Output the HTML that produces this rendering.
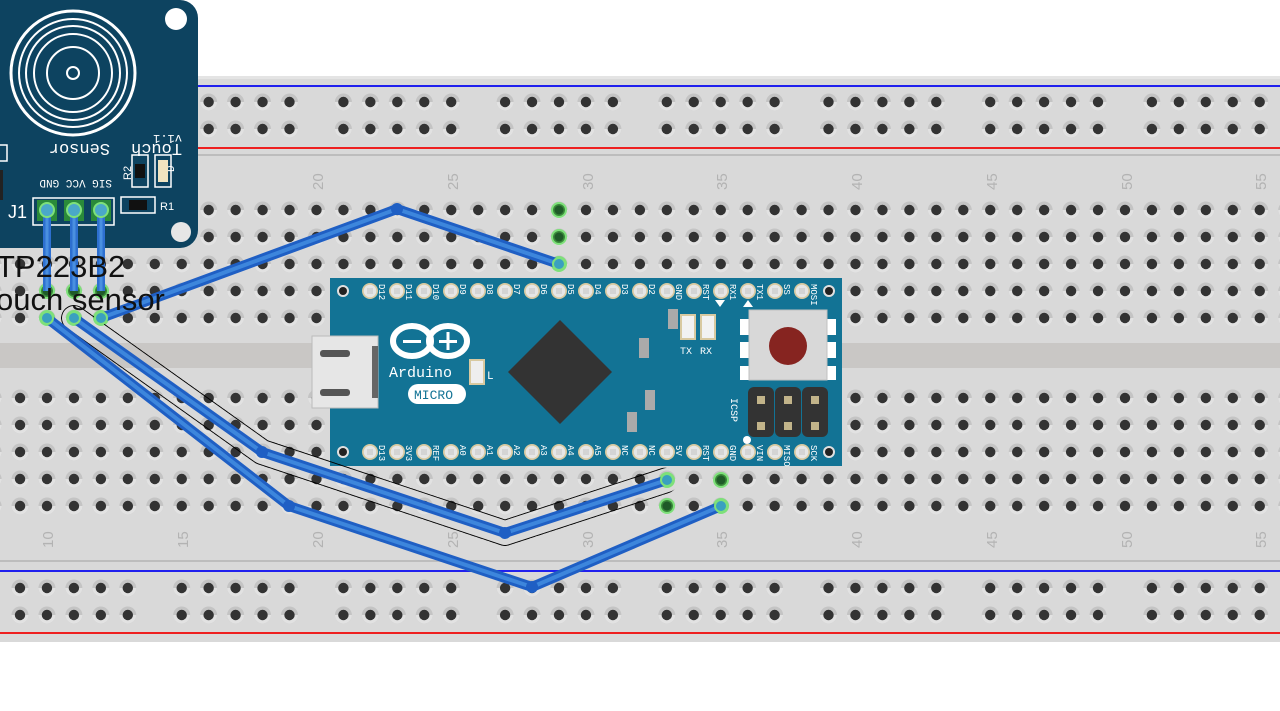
<!DOCTYPE html>
<html><head><meta charset="utf-8"><style>
html,body{margin:0;padding:0;background:#fff;width:1280px;height:711px;overflow:hidden}
svg{display:block}
.m{font-family:"Liberation Mono","DejaVu Sans Mono",monospace}
.s{font-family:"Liberation Sans",sans-serif}
</style></head><body>
<svg id="s" width="1280" height="711" viewBox="0 0 1280 711" xmlns="http://www.w3.org/2000/svg">
<defs>
<g id="h"><circle r="8.5" fill="#c4c4c4"/><path d="M-8.5 0A8.5 8.5 0 0 0 8.5 0Z" fill="#e2e2e2"/><circle r="5.2" fill="#333"/></g>
<g id="g"><circle r="8" fill="#7ee07a"/><circle r="6" fill="#3a8a3a"/><circle r="4.5" fill="#1f5a28"/></g>
<g id="ap"><circle r="8" fill="#d8c9a0"/><circle r="6.3" fill="#e6e6e6"/><rect x="-3" y="-3" width="6" height="6" fill="#d4d4d4"/></g>
<mask id="mk" maskUnits="userSpaceOnUse" x="0" y="0" width="1280" height="711">
<polyline points="74,318 262,452 505,533 667,480" fill="none" stroke="#fff" stroke-width="26" stroke-linejoin="round" stroke-linecap="round"/>
<polyline points="74,318 262,452 505,533 667,480" fill="none" stroke="#000" stroke-width="24" stroke-linejoin="round" stroke-linecap="round"/>
</mask>
</defs>
<rect x="0" y="76" width="1280" height="566" fill="#d9d9d9"/>
<rect x="0" y="76" width="1280" height="3" fill="#e4e4e4"/>
<rect x="0" y="154" width="1280" height="2" fill="#bdbdbd"/>
<rect x="0" y="560" width="1280" height="2" fill="#bdbdbd"/>
<rect x="0" y="343" width="1280" height="25" fill="#c9c7c5"/>
<rect x="0" y="85" width="1280" height="2" fill="#2020ee"/>
<rect x="0" y="147" width="1280" height="2" fill="#ee2020"/>
<rect x="0" y="570" width="1280" height="2" fill="#2020ee"/>
<rect x="0" y="632" width="1280" height="2" fill="#ee2020"/>
<g id="holes"></g>
<g fill="#b3b3b3" class="s" font-size="15">
<text transform="translate(323,190) rotate(-90)">20</text>
<text transform="translate(458,190) rotate(-90)">25</text>
<text transform="translate(593,190) rotate(-90)">30</text>
<text transform="translate(727,190) rotate(-90)">35</text>
<text transform="translate(862,190) rotate(-90)">40</text>
<text transform="translate(997,190) rotate(-90)">45</text>
<text transform="translate(1132,190) rotate(-90)">50</text>
<text transform="translate(1266,190) rotate(-90)">55</text>
<text transform="translate(53,548) rotate(-90)">10</text>
<text transform="translate(188,548) rotate(-90)">15</text>
<text transform="translate(323,548) rotate(-90)">20</text>
<text transform="translate(458,548) rotate(-90)">25</text>
<text transform="translate(593,548) rotate(-90)">30</text>
<text transform="translate(727,548) rotate(-90)">35</text>
<text transform="translate(862,548) rotate(-90)">40</text>
<text transform="translate(997,548) rotate(-90)">45</text>
<text transform="translate(1132,548) rotate(-90)">50</text>
<text transform="translate(1266,548) rotate(-90)">55</text>
</g>
<use href="#g" x="47" y="291"/><use href="#g" x="74" y="291"/><use href="#g" x="101" y="291"/>
<use href="#g" x="47" y="318"/><use href="#g" x="74" y="318"/><use href="#g" x="101" y="318"/>
<use href="#g" x="559" y="210"/><use href="#g" x="559" y="237"/><use href="#g" x="559" y="264"/>
<use href="#g" x="667" y="480"/><use href="#g" x="667" y="506"/><use href="#g" x="721" y="480"/><use href="#g" x="721" y="506"/>

<rect x="330" y="278" width="512" height="188" fill="#127395"/>
<circle cx="343" cy="291" r="6" fill="#e0e0e0"/><circle cx="343" cy="291" r="4" fill="#222"/>
<circle cx="829" cy="291" r="6" fill="#e0e0e0"/><circle cx="829" cy="291" r="4" fill="#222"/>
<circle cx="343" cy="452" r="6" fill="#e0e0e0"/><circle cx="343" cy="452" r="4" fill="#222"/>
<circle cx="829" cy="452" r="6" fill="#e0e0e0"/><circle cx="829" cy="452" r="4" fill="#222"/>
<g id="apins"></g>
<g fill="#fff" font-size="9" class="m">
<text transform="translate(379,284) rotate(90)">D12</text>
<text transform="translate(406,284) rotate(90)">D11</text>
<text transform="translate(433,284) rotate(90)">D10</text>
<text transform="translate(460,284) rotate(90)">D9</text>
<text transform="translate(487,284) rotate(90)">D8</text>
<text transform="translate(514,284) rotate(90)">D7</text>
<text transform="translate(541,284) rotate(90)">D6</text>
<text transform="translate(568,284) rotate(90)">D5</text>
<text transform="translate(595,284) rotate(90)">D4</text>
<text transform="translate(622,284) rotate(90)">D3</text>
<text transform="translate(649,284) rotate(90)">D2</text>
<text transform="translate(676,284) rotate(90)">GND</text>
<text transform="translate(703,284) rotate(90)">RST</text>
<text transform="translate(730,284) rotate(90)">RX1</text>
<text transform="translate(757,284) rotate(90)">TX1</text>
<text transform="translate(784,284) rotate(90)">SS</text>
<text transform="translate(811,284) rotate(90)">MOSI</text>
<text transform="translate(379,445) rotate(90)">D13</text>
<text transform="translate(406,445) rotate(90)">3V3</text>
<text transform="translate(433,445) rotate(90)">REF</text>
<text transform="translate(460,445) rotate(90)">A0</text>
<text transform="translate(487,445) rotate(90)">A1</text>
<text transform="translate(514,445) rotate(90)">A2</text>
<text transform="translate(541,445) rotate(90)">A3</text>
<text transform="translate(568,445) rotate(90)">A4</text>
<text transform="translate(595,445) rotate(90)">A5</text>
<text transform="translate(622,445) rotate(90)">NC</text>
<text transform="translate(649,445) rotate(90)">NC</text>
<text transform="translate(676,445) rotate(90)">5V</text>
<text transform="translate(703,445) rotate(90)">RST</text>
<text transform="translate(730,445) rotate(90)">GND</text>
<text transform="translate(757,445) rotate(90)">VIN</text>
<text transform="translate(784,445) rotate(90)">MISO</text>
<text transform="translate(811,445) rotate(90)">SCK</text>
<text x="680" y="354" font-size="10">TX</text><text x="700" y="354" font-size="10">RX</text>
<text transform="translate(731,398) rotate(90)" font-size="10">ICSP</text>
<text x="487" y="379" font-size="11">L</text>
</g>
<polygon points="715,300 725,300 720,307" fill="#fff"/><polygon points="743,307 753,307 748,300" fill="#fff"/>
<rect x="312" y="336" width="66" height="72" fill="#e6e6e6" stroke="#bbb"/>
<rect x="320" y="350" width="30" height="7" rx="3" fill="#555"/>
<rect x="320" y="389" width="30" height="7" rx="3" fill="#555"/>
<rect x="372" y="346" width="6" height="52" fill="#666"/>
<g fill="none" stroke="#fff" stroke-width="6"><ellipse cx="412" cy="341" rx="19" ry="15"/><ellipse cx="448" cy="341" rx="19" ry="15"/></g>
<rect x="403" y="340" width="18" height="3" fill="#fff"/><rect x="439" y="340" width="18" height="3" fill="#fff"/><rect x="446.5" y="332" width="3" height="18" fill="#fff"/>
<text x="389" y="377" fill="#fff" font-size="15" class="m">Arduino</text>
<rect x="408" y="384" width="58" height="20" rx="10" fill="#fff"/>
<text x="414" y="399" fill="#127395" font-size="13" class="m">MICRO</text>
<rect x="470" y="360" width="14" height="24" fill="#eee" stroke="#d8c9a0" stroke-width="2"/>
<polygon points="560,320 612,372 560,424 508,372" fill="#333"/>
<rect x="639" y="338" width="10" height="20" fill="#aaa"/><rect x="645" y="390" width="10" height="20" fill="#aaa"/><rect x="627" y="412" width="10" height="20" fill="#aaa"/><rect x="668" y="309" width="10" height="20" fill="#aaa"/>
<rect x="681" y="315" width="14" height="24" fill="#f2f2f2" stroke="#d8c9a0" stroke-width="2"/>
<rect x="701" y="315" width="14" height="24" fill="#f2f2f2" stroke="#d8c9a0" stroke-width="2"/>
<rect x="740" y="319" width="96" height="16" fill="#fff"/><rect x="740" y="342" width="96" height="16" fill="#fff"/><rect x="740" y="366" width="96" height="14" fill="#fff"/>
<rect x="749" y="310" width="78" height="70" fill="#d8d8d8" stroke="#c0c0c0"/>
<circle cx="788" cy="346" r="19" fill="#862420"/>
<g fill="#333"><rect x="748" y="387" width="26" height="50" rx="6"/><rect x="775" y="387" width="26" height="50" rx="6"/><rect x="802" y="387" width="26" height="50" rx="6"/></g>
<g fill="#c2b48a"><rect x="757" y="396" width="8" height="8"/><rect x="784" y="396" width="8" height="8"/><rect x="811" y="396" width="8" height="8"/><rect x="757" y="422" width="8" height="8"/><rect x="784" y="422" width="8" height="8"/><rect x="811" y="422" width="8" height="8"/></g>
<circle cx="747" cy="440" r="4" fill="#fff"/>

<path d="M-10 0H180A18 18 0 0 1 198 18V230A18 18 0 0 1 180 248H-10Z" fill="#0d4360"/>
<circle cx="176" cy="19" r="11" fill="#fff"/>
<circle cx="181" cy="232" r="10" fill="#e6e6e6"/>
<g fill="none" stroke="#fff"><circle cx="73" cy="73" r="62" stroke-width="3"/><circle cx="73" cy="73" r="54" stroke-width="2"/><circle cx="73" cy="73" r="47" stroke-width="2"/><circle cx="73" cy="73" r="39" stroke-width="2"/><circle cx="73" cy="73" r="26" stroke-width="2"/><circle cx="73" cy="73" r="6" stroke-width="2"/></g>
<g fill="#fff" class="m">
<text transform="translate(182,135) rotate(180)" font-size="12">v1.1</text>
<text transform="translate(182,144) rotate(180)" font-size="17">Touch</text>
<text transform="translate(110,144) rotate(180)" font-size="17">Sensor</text>
<text transform="translate(112,180) rotate(180)" font-size="11">SIG VCC GND</text>
<text x="8" y="218" font-size="18" class="s">J1</text>
<text x="160" y="210" font-size="11" class="s">R1</text>
<text transform="translate(131,180) rotate(-90)" font-size="11" class="s">R2</text>
<text transform="translate(174,172) rotate(-90)" font-size="11">D</text>
</g>
<rect x="-10" y="145" width="17" height="16" fill="none" stroke="#fff" stroke-width="1.5"/>
<rect x="-10" y="170" width="13" height="30" fill="#222"/>
<rect x="132" y="155" width="16" height="32" fill="none" stroke="#fff" stroke-width="1.5"/><rect x="135" y="164" width="10" height="14" fill="#111"/>
<rect x="155" y="155" width="16" height="32" fill="none" stroke="#fff" stroke-width="1.5"/><rect x="158" y="160" width="10" height="22" fill="#f0e4c0"/>
<rect x="121" y="197" width="34" height="16" fill="none" stroke="#fff" stroke-width="1.5"/><rect x="129" y="200" width="18" height="10" fill="#111"/>
<rect x="33" y="198" width="81" height="27" fill="none" stroke="#fff" stroke-width="1.5"/>
<g><rect x="37" y="200" width="20" height="21" fill="#2a8a3a"/><rect x="64" y="200" width="20" height="21" fill="#2a8a3a"/><rect x="91" y="200" width="20" height="21" fill="#2a8a3a"/></g>
<g stroke="#2d6fd0" stroke-width="8"><line x1="47" y1="210" x2="47" y2="291"/><line x1="74" y1="210" x2="74" y2="291"/><line x1="101" y1="210" x2="101" y2="291"/></g>
<g stroke="#4a90e0" stroke-width="3"><line x1="47" y1="210" x2="47" y2="291"/><line x1="74" y1="210" x2="74" y2="291"/><line x1="101" y1="210" x2="101" y2="291"/></g>
<g fill="#4aa8c8" stroke="#7ee07a" stroke-width="2"><circle cx="47" cy="210" r="7"/><circle cx="74" cy="210" r="7"/><circle cx="101" cy="210" r="7"/></g>

<polyline points="74,318 262,452 505,533 667,480" fill="none" stroke="#000" stroke-width="26" stroke-dasharray="4,3" stroke-linejoin="round" stroke-linecap="round" mask="url(#mk)"/>
<g fill="none" stroke-linejoin="round" stroke-linecap="round">
<g stroke="#1f5fc4" stroke-width="10">
<polyline points="101,318 397,209 559,264"/>
<polyline points="74,318 262,452 505,533 667,480"/>
<polyline points="47,318 289,506 532,587 721,506"/>
</g>
<g stroke="#3d86dc" stroke-width="4">
<polyline points="101,318 397,209 559,264"/>
<polyline points="74,318 262,452 505,533 667,480"/>
<polyline points="47,318 289,506 532,587 721,506"/>
</g>
</g>
<g fill="#1f5fc4"><circle cx="397" cy="209" r="6"/><circle cx="262" cy="452" r="6"/><circle cx="505" cy="533" r="6"/><circle cx="289" cy="506" r="6"/><circle cx="532" cy="587" r="6"/></g>
<g fill="#3aa0c0" stroke="#7ee07a" stroke-width="2"><circle cx="101" cy="318" r="6"/><circle cx="74" cy="318" r="6"/><circle cx="47" cy="318" r="6"/><circle cx="559" cy="264" r="6"/><circle cx="667" cy="480" r="6"/><circle cx="721" cy="506" r="6"/></g>

<text x="-4" y="277" class="s" font-size="31" fill="#111">TP223B2</text>
<text x="-4" y="310" class="s" font-size="31" fill="#111">ouch sensor</text>
</svg>
<script>
(function(){
var NS="http://www.w3.org/2000/svg",g=document.getElementById('holes'),p=26.95;
function u(id,x,y,par){var e=document.createElementNS(NS,'use');e.setAttribute('href','#'+id);e.setAttribute('x',x);e.setAttribute('y',y);par.appendChild(e);}
var rows=[210,237,264,291,318,398,425,452,479,506];
for(var c=1;c<=60;c++){var x=47+(c-10)*p;if(x<-10||x>1290)continue;rows.forEach(function(y){u('h',x,y,g);});}
for(var k=-1;k<9;k++)for(var i=0;i<5;i++){var x=20+k*161.7+i*p;if(x<-10||x>1290)continue;[102,129,588,615].forEach(function(y){u('h',x,y,g);});}
var a=document.getElementById('apins');
for(var i=0;i<17;i++){u('ap',370+i*27,291,a);u('ap',370+i*27,452,a);}
})();
</script>
</body></html>
